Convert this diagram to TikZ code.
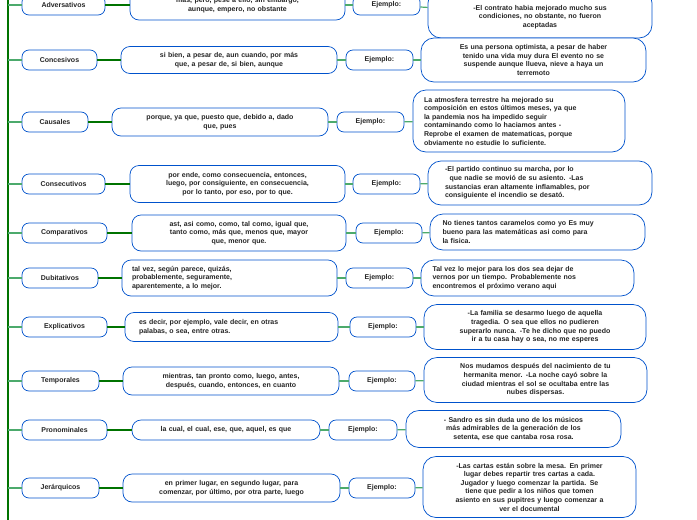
\documentclass[tikz,border=0pt]{standalone}
\usepackage{fontspec}
\setmainfont{Liberation Sans}
\begin{document}
\begin{tikzpicture}[x=1pt,y=-1pt,
 bx/.style={draw=blue!60!cyan!80!black,line width=0.7pt,fill=white,rounded corners=9pt,font=\bfseries\fontsize{7}{8.5}\selectfont,text=black!85,inner sep=1pt,align=center},
 lt/.style={line width=1.2pt,draw=green!50!teal!70!black!70},
 dk/.style={line width=1.6pt,draw=green!45!black}]
\useasboundingbox (0,0) rectangle (697,520);
\draw[dk,line width=1.2pt] (8,-5) -- (8,525);
\foreach \id/\y/\ca/\cb/\ka/\kb/\kh/\ea/\eb/\xa/\xb/\xh/\xy in {
 a/5/22/105/130/345/30/353/420/428/652/48/14,
 b/60/22/97/121/337/27/346/413/421/646/44/60,
 c/122/22/88/112/328/28/337/404/413/625/62/121,
 d/184/22/105/130/345/37/353/420/428/652/44/183,
 e/233/22/107/132/346/36/356/422/430/645/36/232,
 f/278/22/98/122/337/36/346/413/421/634/36/278,
 g/327/22/107/125/338/29/350/416/424/646/45/327,
 h/381/22/99/123/339/28/349/415/424/647/45/380,
 i/430/22/107/132/320/20/329/397/406/621/37/429,
 j/488/22/99/123/340/28/349/415/423/636/61/487}{
 \node[bx,minimum width=\cb-\ca,minimum height=20,rounded corners=7pt] (cat\id) at ({(\ca+\cb)/2},\y) {};
 \node[bx,minimum width=\kb-\ka,minimum height=\kh] (con\id) at ({(\ka+\kb)/2},\y) {};
 \node[bx,minimum width=\eb-\ea,minimum height=20,rounded corners=7pt] (ej\id) at ({(\ea+\eb)/2},\y) {Ejemplo:};
 \node[bx,minimum width=\xb-\xa,minimum height=\xh,rounded corners=13pt] (ex\id) at ({(\xa+\xb)/2},\xy) {};
 \coordinate (m\id) at (8,\y);
 \draw[lt] (m\id) -- (cat\id);
 \draw[dk] (cat\id) -- (con\id);
 \draw[lt] (con\id) -- (ej\id);
 \draw[lt] (ej\id) -- (ex\id);
}
\tikzset{tt/.style={font=\bfseries\fontsize{7}{8.6}\selectfont,text=black!85,align=center,inner sep=0pt}}
\foreach \id/\t in {a/Adversativos,b/Concesivos,c/Causales,d/Consecutivos,e/Comparativos,f/Dubitativos,g/Explicativos,h/Temporales,i/Pronominales,j/Jerárquicos}
 \node[tt] at (cat\id) {\t};
\node[tt,text width=200] at (cona) {mas, pero, pese a ello, sin embargo,\\aunque, empero, no obstante};
\node[tt,text width=200] at (conb) {si bien, a pesar de, aun cuando, por más\\que, a pesar de, si bien, aunque};
\node[tt,text width=200] at (conc) {porque, ya que, puesto que, debido a, dado\\que, pues};
\node[tt,text width=200] at (cond) {por ende, como consecuencia, entonces,\\luego, por consiguiente, en consecuencia,\\por lo tanto, por eso, por to que.};
\node[tt,text width=200] at (cone) {ast, asi como, como, tal como, igual que,\\tanto como, más que, menos que, mayor\\que, menor que.};
\node[tt,text width=195,align=left] at (conf) {tal vez, según parece, quizás,\\probablemente, seguramente,\\aparentemente, a lo mejor.};
\node[tt,text width=185,align=left] at (cong) {es decir, por ejemplo, vale decir, en otras\\palabas, o sea, entre otras.};
\node[tt,text width=200] at (conh) {mientras, tan pronto como, luego, antes,\\después, cuando, entonces, en cuanto};
\node[tt,text width=180] at (coni) {la cual, el cual, ese, que, aquel, es que};
\node[tt,text width=200] at (conj) {en primer lugar, en segundo lugar, para\\comenzar, por último, por otra parte, luego};
\node[tt,text width=205] at ([yshift=-3]exa) {-El contrato habia mejorado mucho sus\\condiciones, no obstante, no fueron\\aceptadas};
\node[tt,text width=205] at (exb) {Es una persona optimista, a pesar de haber\\tenido una vida muy dura El evento no se\\suspende aunque llueva, nieve a haya un\\terremoto};
\node[tt,text width=190,align=left] at (exc) {La atmosfera terrestre ha mejorado su\\composición en estos últimos meses, ya que\\la pandemia nos ha impedido seguir\\contaminando como lo haciamos antes -\\Reprobe el examen de matematicas, porque\\obviamente no estudie lo suficiente.};
\node[tt,text width=190,align=left] at (exd) {-El partido continuo su marcha, por lo\\\ \ que nadie se movió de su asiento. -Las\\sustancias eran altamente inflamables, por\\consiguiente el incendio se desató.};
\node[tt,text width=190,align=left] at (exe) {No tienes tantos caramelos como yo Es muy\\bueno para las matemáticas asi como para\\la fisica.};
\node[tt,text width=190,align=left] at (exf) {Tal vez lo mejor para los dos sea dejar de\\vernos por un tiempo. Probablemente nos\\encontremos el próximo verano aqui};
\node[tt,text width=205] at (exg) {-La familia se desarmo luego de aquella\\tragedia. O sea que ellos no pudieren\\superarlo nunca. -Te he dicho que no puedo\\ir a tu casa hay o sea, no me esperes};
\node[tt,text width=205] at (exh) {Nos mudamos después del nacimiento de tu\\hermanita menor. -La noche cayó sobre la\\ciudad mientras el sol se ocultaba entre las\\nubes dispersas.};
\node[tt,text width=200] at (exi) {- Sandro es sin duda uno de los músicos\\más admirables de la generación de los\\setenta, ese que cantaba rosa rosa.};
\node[tt,text width=205] at (exj) {-Las cartas están sobre la mesa. En primer\\lugar debes repartir tres cartas a cada.\\Jugador y luego comenzar la partida. Se\\tiene que pedir a los niños que tomen\\asiento en sus pupitres y luego comenzar a\\ver el documental};
\end{tikzpicture}
\end{document}
